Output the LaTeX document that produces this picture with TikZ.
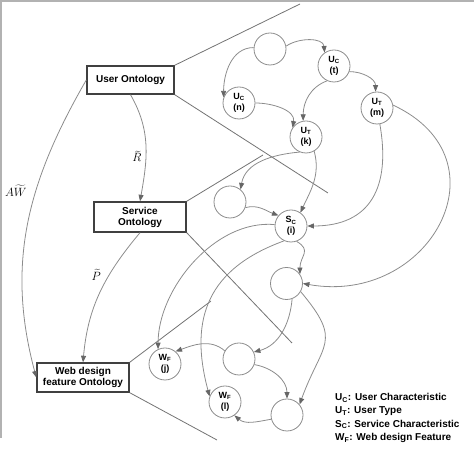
\documentclass[tikz,border=0pt]{standalone}
\usepackage{fontspec}
\setmainfont{Liberation Sans}
\usetikzlibrary{arrows.meta}

\tikzset{
  onto/.style={draw=black!75,line width=1.4pt,fill=white,inner sep=0pt,align=center,
    font=\bfseries\fontsize{10}{11}\selectfont},
  state/.style={circle,draw=black!45,line width=0.8pt,minimum size=32pt,inner sep=0pt,
    align=center,font=\bfseries\fontsize{9}{10.5}\selectfont},
  flow/.style={draw=black!45,line width=0.8pt,-{Triangle[length=6.5pt,width=5pt,color=black!60]}},
  cone/.style={draw=black!55,line width=0.8pt},
  maplabel/.style={font=\fontsize{12}{12}\selectfont,inner sep=1pt}
}

\begin{document}
\begin{tikzpicture}[x=1pt,y=1pt]
\useasboundingbox (0,0) rectangle (474,449);
\draw[black!30,line width=4pt] (0,11) -- (0,449) -- (474,449);

% ontologies
\node [onto,minimum width=87pt,minimum height=28pt] (user) at (130.5,369) {User Ontology};
\node [onto,minimum width=92pt,minimum height=30pt] (service) at (140,232) {Service\\Ontology};
\node [onto,minimum width=92pt,minimum height=29pt] (web) at (83,71.5) {Web design\\feature Ontology};

% characteristics
\node [state] (e1) at (270,400) {};
\node [state] (uct) at (334,383) {U\textsubscript{C}\\(t)};
\node [state] (ucn) at (239,346) {U\textsubscript{C}\\(n)};
\node [state] (utk) at (306,312) {U\textsubscript{T}\\(k)};
\node [state] (utm) at (377,341) {U\textsubscript{T}\\(m)};
\node [state] (e2) at (230,247) {};
\node [state] (sci) at (291,223) {S\textsubscript{C}\\(i)};
\node [state] (e3) at (286.5,165.5) {};
\node [state] (e4) at (239,90) {};
\node [state] (wfj) at (165,85) {W\textsubscript{F}\\(j)};
\node [state] (wfl) at (225,47) {W\textsubscript{F}\\(l)};
\node [state] (e5) at (287,34) {};

% cone borders
\coordinate (u1) at (300,445);
\coordinate (u2) at (328,256);
\coordinate (s1) at (263,294);
\coordinate (s2) at (292,106);
\coordinate (w1) at (211,148);
\coordinate (w2) at (217,9);
\draw[cone] (user.north east) -- (u1);
\draw[cone] (user.south east) -- (u2);
\draw[cone] (service.north east) -- (s1);
\draw[cone] (service.south east) -- (s2);
\draw[cone] (web.north east) -- (w1);
\draw[cone] (web.south east) -- (w2);

% mappings
\draw[flow] (user.south) to[out=-60,in=80] node[maplabel,pos=.6,left=3pt] {$\widetilde{R}$} (service.north);
\draw[flow] (service.south) to[out=-130,in=85] node[maplabel,pos=.35,left=7pt] {$\widetilde{P}$} (web.north);
\draw[flow] (user.west) to[out=-120,in=105] node[maplabel,pos=.38,left=8pt] {$A\widetilde{W}$} (web.west);

\draw[flow] (e1.10) to[out=35,in=95] (uct.125);
\draw[flow] (e1.175) to[out=180,in=90] (ucn.160);
\draw[flow] (uct.-20) to[out=0,in=90] (utm.95);
\draw[flow] (uct.-115) to[out=200,in=90] (utk.100);
\draw[flow] (ucn.0) to[out=0,in=80] (utk.145);
\draw[flow] (utk.-113) to[out=185,in=80] (e2.50);
\draw[flow] (utk.-60) to[out=-75,in=65] (sci.55);
\draw[flow] (e2.-20) to[out=15,in=160] (sci.140);
\draw[flow] (utm.-80) to[out=-80,in=0,looseness=1.3] (sci.0);
\draw[flow] (utm.10) to[out=-25,in=-10,looseness=1.65] (e3.0);
\draw[flow] (sci.-70) to[out=-30,in=90,looseness=1.4] (e3.35);
\draw[flow] (sci.175) to[out=175,in=90,looseness=.9] (wfj.115);
\draw[flow] (sci.-115) to[out=200,in=105,looseness=1.2] (wfl.160);
\draw[flow] (e3.-70) to[out=-95,in=15] (e4.25);
\draw[flow] (e3.-30) to[out=-50,in=70,looseness=1.5] (e5.40);
\draw[flow] (e4.150) to[out=140,in=20] (wfj.50);
\draw[flow] (e4.-20) to[out=-10,in=90] (e5.90);
\draw[flow] (e5.195) to[out=190,in=-40] (wfl.-55);

% legend
\node [anchor=west,align=left,inner sep=0pt,font=\bfseries\fontsize{10}{13.3}\selectfont] (key) at (335,31)
  {U\textsubscript{C}: User Characteristic\\
   U\textsubscript{T}: User Type\\
   S\textsubscript{C}: Service Characteristic\\
   W\textsubscript{F}: Web design Feature};
\end{tikzpicture}
\end{document}
